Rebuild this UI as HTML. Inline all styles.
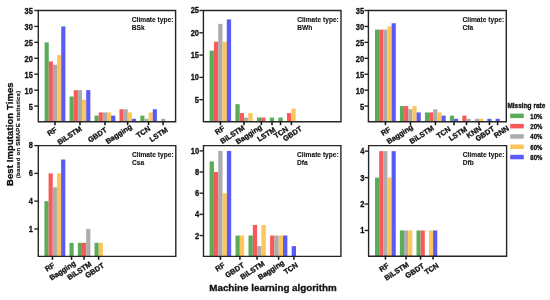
<!DOCTYPE html>
<html><head><meta charset="utf-8"><style>
html,body{margin:0;padding:0;background:#fff;width:550px;height:300px;overflow:hidden}
svg{display:block}
text{font-family:'Liberation Sans', Arial, sans-serif;font-weight:bold;fill:#111;stroke:#111;stroke-width:0.3px}
</style></head><body>
<svg width="550" height="300" viewBox="0 0 550 300">
<rect x="44.6" y="42.36" width="4.16" height="79.64" fill="#5aac5a"/>
<rect x="48.76" y="61.47" width="4.16" height="60.53" fill="#f85a5a"/>
<rect x="52.92" y="64.66" width="4.16" height="57.34" fill="#acacac"/>
<rect x="57.08" y="55.1" width="4.16" height="66.9" fill="#fcc65a"/>
<rect x="61.24" y="26.43" width="4.16" height="95.57" fill="#5a5af8"/>
<rect x="69.56" y="96.51" width="4.16" height="25.49" fill="#5aac5a"/>
<rect x="73.72" y="90.14" width="4.16" height="31.86" fill="#f85a5a"/>
<rect x="77.88" y="90.14" width="4.16" height="31.86" fill="#acacac"/>
<rect x="82.04" y="99.7" width="4.16" height="22.3" fill="#fcc65a"/>
<rect x="86.2" y="90.14" width="4.16" height="31.86" fill="#5a5af8"/>
<rect x="94.52" y="115.63" width="4.16" height="6.37" fill="#5aac5a"/>
<rect x="98.68" y="112.44" width="4.16" height="9.56" fill="#f85a5a"/>
<rect x="102.84" y="112.44" width="4.16" height="9.56" fill="#acacac"/>
<rect x="107" y="112.44" width="4.16" height="9.56" fill="#fcc65a"/>
<rect x="111.16" y="115.63" width="4.16" height="6.37" fill="#5a5af8"/>
<rect x="119.48" y="109.26" width="4.16" height="12.74" fill="#f85a5a"/>
<rect x="123.64" y="109.26" width="4.16" height="12.74" fill="#acacac"/>
<rect x="127.8" y="112.44" width="4.16" height="9.56" fill="#fcc65a"/>
<rect x="131.96" y="118.81" width="4.16" height="3.19" fill="#5a5af8"/>
<rect x="140.28" y="115.63" width="4.16" height="6.37" fill="#5aac5a"/>
<rect x="144.44" y="118.81" width="4.16" height="3.19" fill="#acacac"/>
<rect x="148.6" y="112.44" width="4.16" height="9.56" fill="#fcc65a"/>
<rect x="152.76" y="109.26" width="4.16" height="12.74" fill="#5a5af8"/>
<rect x="161.08" y="118.81" width="4.16" height="3.19" fill="#acacac"/>
<path d="M38.3 10.5H175.6V121.75H38.3Z" fill="none" stroke="#262626" stroke-width="1.4"/>
<line x1="34.3" y1="106.07" x2="38.3" y2="106.07" stroke="#262626" stroke-width="1.4"/>
<text x="32.8" y="109.77" font-size="8.6" text-anchor="end" textLength="4.16" lengthAdjust="spacingAndGlyphs">5</text>
<line x1="34.3" y1="90.14" x2="38.3" y2="90.14" stroke="#262626" stroke-width="1.4"/>
<text x="32.8" y="93.84" font-size="8.6" text-anchor="end" textLength="8.32" lengthAdjust="spacingAndGlyphs">10</text>
<line x1="34.3" y1="74.21" x2="38.3" y2="74.21" stroke="#262626" stroke-width="1.4"/>
<text x="32.8" y="77.91" font-size="8.6" text-anchor="end" textLength="8.32" lengthAdjust="spacingAndGlyphs">15</text>
<line x1="34.3" y1="58.29" x2="38.3" y2="58.29" stroke="#262626" stroke-width="1.4"/>
<text x="32.8" y="61.99" font-size="8.6" text-anchor="end" textLength="8.32" lengthAdjust="spacingAndGlyphs">20</text>
<line x1="34.3" y1="42.36" x2="38.3" y2="42.36" stroke="#262626" stroke-width="1.4"/>
<text x="32.8" y="46.06" font-size="8.6" text-anchor="end" textLength="8.32" lengthAdjust="spacingAndGlyphs">25</text>
<line x1="34.3" y1="26.43" x2="38.3" y2="26.43" stroke="#262626" stroke-width="1.4"/>
<text x="32.8" y="30.13" font-size="8.6" text-anchor="end" textLength="8.32" lengthAdjust="spacingAndGlyphs">30</text>
<line x1="34.3" y1="10.5" x2="38.3" y2="10.5" stroke="#262626" stroke-width="1.4"/>
<text x="32.8" y="14.2" font-size="8.6" text-anchor="end" textLength="8.32" lengthAdjust="spacingAndGlyphs">35</text>
<line x1="55" y1="121.75" x2="55" y2="125.15" stroke="#111" stroke-width="1.5"/>
<text x="57.6" y="130.95" font-size="7.4" text-anchor="end" transform="rotate(-33 57.6 130.95)">RF</text>
<line x1="79.98" y1="121.75" x2="79.98" y2="125.15" stroke="#111" stroke-width="1.5"/>
<text x="82.5" y="130.12" font-size="7.4" text-anchor="end" transform="rotate(-33 82.5 130.12)">BiLSTM</text>
<line x1="104.96" y1="121.75" x2="104.96" y2="125.15" stroke="#111" stroke-width="1.5"/>
<text x="107.52" y="131.38" font-size="7.4" text-anchor="end" transform="rotate(-33 107.52 131.38)">GBDT</text>
<line x1="127.65" y1="121.75" x2="127.65" y2="125.15" stroke="#111" stroke-width="1.5"/>
<text x="132.45" y="128.1" font-size="7.4" text-anchor="end" transform="rotate(-33 132.45 128.1)">Bagging</text>
<line x1="148.55" y1="121.75" x2="148.55" y2="125.15" stroke="#111" stroke-width="1.5"/>
<text x="151" y="129.88" font-size="7.4" text-anchor="end" transform="rotate(-33 151 129.88)">TCN</text>
<line x1="163.08" y1="121.75" x2="163.08" y2="125.15" stroke="#111" stroke-width="1.5"/>
<text x="168.38" y="131.18" font-size="7.4" text-anchor="end" transform="rotate(-33 168.38 131.18)">LSTM</text>
<text x="131.8" y="21.5" font-size="6.6" textLength="41.6" lengthAdjust="spacing" style="stroke-width:0.1px">Climate type:</text>
<text x="131.8" y="29.8" font-size="6.6" style="stroke-width:0.1px">BSk</text>
<rect x="209.6" y="50.64" width="4.3" height="71.36" fill="#5aac5a"/>
<rect x="213.9" y="41.72" width="4.3" height="80.28" fill="#f85a5a"/>
<rect x="218.2" y="23.88" width="4.3" height="98.12" fill="#acacac"/>
<rect x="222.5" y="41.72" width="4.3" height="80.28" fill="#fcc65a"/>
<rect x="226.8" y="19.42" width="4.3" height="102.58" fill="#5a5af8"/>
<rect x="235.4" y="104.16" width="4.3" height="17.84" fill="#5aac5a"/>
<rect x="239.7" y="113.08" width="4.3" height="8.92" fill="#f85a5a"/>
<rect x="244" y="117.54" width="4.3" height="4.46" fill="#acacac"/>
<rect x="248.3" y="113.08" width="4.3" height="8.92" fill="#fcc65a"/>
<rect x="256.9" y="117.54" width="4.3" height="4.46" fill="#5aac5a"/>
<rect x="261.2" y="117.54" width="4.3" height="4.46" fill="#f85a5a"/>
<rect x="269.8" y="117.54" width="4.3" height="4.46" fill="#5aac5a"/>
<rect x="278.4" y="117.54" width="4.3" height="4.46" fill="#5aac5a"/>
<rect x="287" y="113.08" width="4.3" height="8.92" fill="#f85a5a"/>
<rect x="291.3" y="108.62" width="4.3" height="13.38" fill="#fcc65a"/>
<path d="M203.4 10.5H341V121.75H203.4Z" fill="none" stroke="#262626" stroke-width="1.4"/>
<line x1="199.4" y1="99.7" x2="203.4" y2="99.7" stroke="#262626" stroke-width="1.4"/>
<text x="199" y="102.6" font-size="8.6" text-anchor="end" textLength="4.16" lengthAdjust="spacingAndGlyphs">5</text>
<line x1="199.4" y1="77.4" x2="203.4" y2="77.4" stroke="#262626" stroke-width="1.4"/>
<text x="199" y="80.3" font-size="8.6" text-anchor="end" textLength="8.32" lengthAdjust="spacingAndGlyphs">10</text>
<line x1="199.4" y1="55.1" x2="203.4" y2="55.1" stroke="#262626" stroke-width="1.4"/>
<text x="199" y="58" font-size="8.6" text-anchor="end" textLength="8.32" lengthAdjust="spacingAndGlyphs">15</text>
<line x1="199.4" y1="32.8" x2="203.4" y2="32.8" stroke="#262626" stroke-width="1.4"/>
<text x="199" y="35.7" font-size="8.6" text-anchor="end" textLength="8.32" lengthAdjust="spacingAndGlyphs">20</text>
<line x1="199.4" y1="10.5" x2="203.4" y2="10.5" stroke="#262626" stroke-width="1.4"/>
<text x="199" y="13.4" font-size="8.6" text-anchor="end" textLength="8.32" lengthAdjust="spacingAndGlyphs">25</text>
<line x1="220.43" y1="121.75" x2="220.43" y2="125.15" stroke="#111" stroke-width="1.5"/>
<text x="225.4" y="129.6" font-size="7.4" text-anchor="end" transform="rotate(-33 225.4 129.6)">RF</text>
<line x1="244" y1="121.75" x2="244" y2="125.15" stroke="#111" stroke-width="1.5"/>
<text x="245.25" y="129.12" font-size="7.4" text-anchor="end" transform="rotate(-33 245.25 129.12)">BiLSTM</text>
<line x1="261.35" y1="121.75" x2="261.35" y2="125.15" stroke="#111" stroke-width="1.5"/>
<text x="262.65" y="128.45" font-size="7.4" text-anchor="end" transform="rotate(-33 262.65 128.45)">Bagging</text>
<line x1="271.98" y1="121.75" x2="271.98" y2="125.15" stroke="#111" stroke-width="1.5"/>
<text x="276.12" y="130.88" font-size="7.4" text-anchor="end" transform="rotate(-33 276.12 130.88)">LSTM</text>
<line x1="280.53" y1="121.75" x2="280.53" y2="125.15" stroke="#111" stroke-width="1.5"/>
<text x="288.75" y="130.38" font-size="7.4" text-anchor="end" transform="rotate(-33 288.75 130.38)">TCN</text>
<line x1="291.4" y1="121.75" x2="291.4" y2="125.15" stroke="#111" stroke-width="1.5"/>
<text x="302.62" y="130.12" font-size="7.4" text-anchor="end" transform="rotate(-33 302.62 130.12)">GBDT</text>
<text x="297.2" y="21.5" font-size="6.6" textLength="41.6" lengthAdjust="spacing" style="stroke-width:0.1px">Climate type:</text>
<text x="297.2" y="29.8" font-size="6.6" style="stroke-width:0.1px">BWh</text>
<rect x="375" y="29.61" width="4.16" height="92.39" fill="#5aac5a"/>
<rect x="379.16" y="29.61" width="4.16" height="92.39" fill="#f85a5a"/>
<rect x="383.32" y="29.61" width="4.16" height="92.39" fill="#acacac"/>
<rect x="387.48" y="26.43" width="4.16" height="95.57" fill="#fcc65a"/>
<rect x="391.64" y="23.24" width="4.16" height="98.76" fill="#5a5af8"/>
<rect x="399.96" y="106.07" width="4.16" height="15.93" fill="#5aac5a"/>
<rect x="404.12" y="106.07" width="4.16" height="15.93" fill="#f85a5a"/>
<rect x="408.28" y="109.26" width="4.16" height="12.74" fill="#acacac"/>
<rect x="412.44" y="106.07" width="4.16" height="15.93" fill="#fcc65a"/>
<rect x="416.6" y="112.44" width="4.16" height="9.56" fill="#5a5af8"/>
<rect x="424.92" y="112.44" width="4.16" height="9.56" fill="#5aac5a"/>
<rect x="429.08" y="112.44" width="4.16" height="9.56" fill="#f85a5a"/>
<rect x="433.24" y="109.26" width="4.16" height="12.74" fill="#acacac"/>
<rect x="437.4" y="112.44" width="4.16" height="9.56" fill="#fcc65a"/>
<rect x="441.56" y="115.63" width="4.16" height="6.37" fill="#5a5af8"/>
<rect x="449.88" y="115.63" width="4.16" height="6.37" fill="#5aac5a"/>
<rect x="454.04" y="118.81" width="4.16" height="3.19" fill="#5a5af8"/>
<rect x="462.36" y="115.63" width="4.16" height="6.37" fill="#f85a5a"/>
<rect x="466.52" y="118.81" width="4.16" height="3.19" fill="#acacac"/>
<rect x="474.84" y="118.81" width="4.16" height="3.19" fill="#acacac"/>
<rect x="479" y="118.81" width="4.16" height="3.19" fill="#fcc65a"/>
<rect x="487.32" y="118.81" width="4.16" height="3.19" fill="#5a5af8"/>
<rect x="495.64" y="118.81" width="4.16" height="3.19" fill="#5a5af8"/>
<path d="M368.4 10.5H506.3V121.75H368.4Z" fill="none" stroke="#262626" stroke-width="1.4"/>
<line x1="364.4" y1="106.07" x2="368.4" y2="106.07" stroke="#262626" stroke-width="1.4"/>
<text x="364.1" y="109.77" font-size="8.6" text-anchor="end" textLength="4.16" lengthAdjust="spacingAndGlyphs">5</text>
<line x1="364.4" y1="90.14" x2="368.4" y2="90.14" stroke="#262626" stroke-width="1.4"/>
<text x="364.1" y="93.84" font-size="8.6" text-anchor="end" textLength="8.32" lengthAdjust="spacingAndGlyphs">10</text>
<line x1="364.4" y1="74.21" x2="368.4" y2="74.21" stroke="#262626" stroke-width="1.4"/>
<text x="364.1" y="77.91" font-size="8.6" text-anchor="end" textLength="8.32" lengthAdjust="spacingAndGlyphs">15</text>
<line x1="364.4" y1="58.29" x2="368.4" y2="58.29" stroke="#262626" stroke-width="1.4"/>
<text x="364.1" y="61.99" font-size="8.6" text-anchor="end" textLength="8.32" lengthAdjust="spacingAndGlyphs">20</text>
<line x1="364.4" y1="42.36" x2="368.4" y2="42.36" stroke="#262626" stroke-width="1.4"/>
<text x="364.1" y="46.06" font-size="8.6" text-anchor="end" textLength="8.32" lengthAdjust="spacingAndGlyphs">25</text>
<line x1="364.4" y1="26.43" x2="368.4" y2="26.43" stroke="#262626" stroke-width="1.4"/>
<text x="364.1" y="30.13" font-size="8.6" text-anchor="end" textLength="8.32" lengthAdjust="spacingAndGlyphs">30</text>
<line x1="364.4" y1="10.5" x2="368.4" y2="10.5" stroke="#262626" stroke-width="1.4"/>
<text x="364.1" y="14.2" font-size="8.6" text-anchor="end" textLength="8.32" lengthAdjust="spacingAndGlyphs">35</text>
<line x1="385.45" y1="121.75" x2="385.45" y2="125.15" stroke="#111" stroke-width="1.5"/>
<text x="391.25" y="130.75" font-size="7.4" text-anchor="end" transform="rotate(-33 391.25 130.75)">RF</text>
<line x1="410.43" y1="121.75" x2="410.43" y2="125.15" stroke="#111" stroke-width="1.5"/>
<text x="413.5" y="128.25" font-size="7.4" text-anchor="end" transform="rotate(-33 413.5 128.25)">Bagging</text>
<line x1="435.41" y1="121.75" x2="435.41" y2="125.15" stroke="#111" stroke-width="1.5"/>
<text x="434.5" y="129.38" font-size="7.4" text-anchor="end" transform="rotate(-33 434.5 129.38)">BiLSTM</text>
<line x1="454.02" y1="121.75" x2="454.02" y2="125.15" stroke="#111" stroke-width="1.5"/>
<text x="451.25" y="130.38" font-size="7.4" text-anchor="end" transform="rotate(-33 451.25 130.38)">TCN</text>
<line x1="466.51" y1="121.75" x2="466.51" y2="125.15" stroke="#111" stroke-width="1.5"/>
<text x="467.62" y="130.38" font-size="7.4" text-anchor="end" transform="rotate(-33 467.62 130.38)">LSTM</text>
<line x1="479" y1="121.75" x2="479" y2="125.15" stroke="#111" stroke-width="1.5"/>
<text x="481.88" y="129.75" font-size="7.4" text-anchor="end" transform="rotate(-33 481.88 129.75)">KNN</text>
<line x1="489.45" y1="121.75" x2="489.45" y2="125.15" stroke="#111" stroke-width="1.5"/>
<text x="495.12" y="130.12" font-size="7.4" text-anchor="end" transform="rotate(-33 495.12 130.12)">GBDT</text>
<line x1="497.61" y1="121.75" x2="497.61" y2="125.15" stroke="#111" stroke-width="1.5"/>
<text x="509.38" y="129.5" font-size="7.4" text-anchor="end" transform="rotate(-33 509.38 129.5)">RNN</text>
<text x="462.5" y="21.5" font-size="6.6" textLength="41.6" lengthAdjust="spacing" style="stroke-width:0.1px">Climate type:</text>
<text x="462.5" y="29.8" font-size="6.6" style="stroke-width:0.1px">Cfa</text>
<rect x="44.4" y="201.15" width="4.18" height="55.55" fill="#5aac5a"/>
<rect x="48.58" y="173.38" width="4.18" height="83.32" fill="#f85a5a"/>
<rect x="52.76" y="187.26" width="4.18" height="69.44" fill="#acacac"/>
<rect x="56.94" y="173.38" width="4.18" height="83.32" fill="#fcc65a"/>
<rect x="61.12" y="159.49" width="4.18" height="97.21" fill="#5a5af8"/>
<rect x="69.48" y="242.81" width="4.18" height="13.89" fill="#5aac5a"/>
<rect x="77.84" y="242.81" width="4.18" height="13.89" fill="#5aac5a"/>
<rect x="82.02" y="242.81" width="4.18" height="13.89" fill="#f85a5a"/>
<rect x="86.2" y="228.92" width="4.18" height="27.77" fill="#acacac"/>
<rect x="94.56" y="242.81" width="4.18" height="13.89" fill="#5aac5a"/>
<rect x="98.74" y="242.81" width="4.18" height="13.89" fill="#fcc65a"/>
<path d="M38.3 145.6H175.8V256.4H38.3Z" fill="none" stroke="#262626" stroke-width="1.4"/>
<line x1="34.3" y1="228.92" x2="38.3" y2="228.92" stroke="#262626" stroke-width="1.4"/>
<text x="32.8" y="231.62" font-size="8.6" text-anchor="end" textLength="4.16" lengthAdjust="spacingAndGlyphs">1</text>
<line x1="34.3" y1="201.15" x2="38.3" y2="201.15" stroke="#262626" stroke-width="1.4"/>
<text x="32.8" y="203.85" font-size="8.6" text-anchor="end" textLength="4.16" lengthAdjust="spacingAndGlyphs">4</text>
<line x1="34.3" y1="173.38" x2="38.3" y2="173.38" stroke="#262626" stroke-width="1.4"/>
<text x="32.8" y="176.07" font-size="8.6" text-anchor="end" textLength="4.16" lengthAdjust="spacingAndGlyphs">6</text>
<line x1="34.3" y1="145.6" x2="38.3" y2="145.6" stroke="#262626" stroke-width="1.4"/>
<text x="32.8" y="148.3" font-size="8.6" text-anchor="end" textLength="4.16" lengthAdjust="spacingAndGlyphs">8</text>
<line x1="52.45" y1="256.4" x2="52.45" y2="259.8" stroke="#111" stroke-width="1.5"/>
<text x="55.25" y="266.5" font-size="7.4" text-anchor="end" transform="rotate(-33 55.25 266.5)">RF</text>
<line x1="71.53" y1="256.4" x2="71.53" y2="259.8" stroke="#111" stroke-width="1.5"/>
<text x="76.25" y="264.5" font-size="7.4" text-anchor="end" transform="rotate(-33 76.25 264.5)">Bagging</text>
<line x1="84.06" y1="256.4" x2="84.06" y2="259.8" stroke="#111" stroke-width="1.5"/>
<text x="92.25" y="265.38" font-size="7.4" text-anchor="end" transform="rotate(-33 92.25 265.38)">BiLSTM</text>
<line x1="98.62" y1="256.4" x2="98.62" y2="259.8" stroke="#111" stroke-width="1.5"/>
<text x="104.88" y="266.88" font-size="7.4" text-anchor="end" transform="rotate(-33 104.88 266.88)">GBDT</text>
<text x="132" y="156.6" font-size="6.6" textLength="41.6" lengthAdjust="spacing" style="stroke-width:0.1px">Climate type:</text>
<text x="132" y="164.9" font-size="6.6" style="stroke-width:0.1px">Csa</text>
<rect x="209.6" y="161.47" width="4.32" height="95.23" fill="#5aac5a"/>
<rect x="213.92" y="172.05" width="4.32" height="84.65" fill="#f85a5a"/>
<rect x="218.24" y="150.89" width="4.32" height="105.81" fill="#acacac"/>
<rect x="222.56" y="193.21" width="4.32" height="63.49" fill="#fcc65a"/>
<rect x="226.88" y="150.89" width="4.32" height="105.81" fill="#5a5af8"/>
<rect x="235.52" y="235.54" width="4.32" height="21.16" fill="#5aac5a"/>
<rect x="239.84" y="235.54" width="4.32" height="21.16" fill="#fcc65a"/>
<rect x="248.48" y="235.54" width="4.32" height="21.16" fill="#5aac5a"/>
<rect x="252.8" y="224.96" width="4.32" height="31.74" fill="#f85a5a"/>
<rect x="257.12" y="246.12" width="4.32" height="10.58" fill="#acacac"/>
<rect x="261.44" y="224.96" width="4.32" height="31.74" fill="#fcc65a"/>
<rect x="270.08" y="235.54" width="4.32" height="21.16" fill="#f85a5a"/>
<rect x="274.4" y="235.54" width="4.32" height="21.16" fill="#acacac"/>
<rect x="278.72" y="235.54" width="4.32" height="21.16" fill="#fcc65a"/>
<rect x="283.04" y="235.54" width="4.32" height="21.16" fill="#5a5af8"/>
<rect x="291.68" y="246.12" width="4.32" height="10.58" fill="#5a5af8"/>
<path d="M203.5 145.6H340.9V256.4H203.5Z" fill="none" stroke="#262626" stroke-width="1.4"/>
<line x1="199.5" y1="235.54" x2="203.5" y2="235.54" stroke="#262626" stroke-width="1.4"/>
<text x="199.1" y="238.59" font-size="8.6" text-anchor="end" textLength="4.16" lengthAdjust="spacingAndGlyphs">2</text>
<line x1="199.5" y1="214.38" x2="203.5" y2="214.38" stroke="#262626" stroke-width="1.4"/>
<text x="199.1" y="217.43" font-size="8.6" text-anchor="end" textLength="4.16" lengthAdjust="spacingAndGlyphs">4</text>
<line x1="199.5" y1="193.21" x2="203.5" y2="193.21" stroke="#262626" stroke-width="1.4"/>
<text x="199.1" y="196.26" font-size="8.6" text-anchor="end" textLength="4.16" lengthAdjust="spacingAndGlyphs">6</text>
<line x1="199.5" y1="172.05" x2="203.5" y2="172.05" stroke="#262626" stroke-width="1.4"/>
<text x="199.1" y="175.1" font-size="8.6" text-anchor="end" textLength="4.16" lengthAdjust="spacingAndGlyphs">8</text>
<line x1="199.5" y1="150.89" x2="203.5" y2="150.89" stroke="#262626" stroke-width="1.4"/>
<text x="199.1" y="153.94" font-size="8.6" text-anchor="end" textLength="8.32" lengthAdjust="spacingAndGlyphs">10</text>
<line x1="220.45" y1="256.4" x2="220.45" y2="259.8" stroke="#111" stroke-width="1.5"/>
<text x="225.6" y="266.4" font-size="7.4" text-anchor="end" transform="rotate(-33 225.6 266.4)">RF</text>
<line x1="239.92" y1="256.4" x2="239.92" y2="259.8" stroke="#111" stroke-width="1.5"/>
<text x="244.88" y="266.62" font-size="7.4" text-anchor="end" transform="rotate(-33 244.88 266.62)">GBDT</text>
<line x1="257.06" y1="256.4" x2="257.06" y2="259.8" stroke="#111" stroke-width="1.5"/>
<text x="265.25" y="264.88" font-size="7.4" text-anchor="end" transform="rotate(-33 265.25 264.88)">BiLSTM</text>
<line x1="278.61" y1="256.4" x2="278.61" y2="259.8" stroke="#111" stroke-width="1.5"/>
<text x="284.85" y="263.95" font-size="7.4" text-anchor="end" transform="rotate(-33 284.85 263.95)">Bagging</text>
<line x1="293.92" y1="256.4" x2="293.92" y2="259.8" stroke="#111" stroke-width="1.5"/>
<text x="298.4" y="266.42" font-size="7.4" text-anchor="end" transform="rotate(-33 298.4 266.42)">TCN</text>
<text x="297.1" y="156.6" font-size="6.6" textLength="41.6" lengthAdjust="spacing" style="stroke-width:0.1px">Climate type:</text>
<text x="297.1" y="164.9" font-size="6.6" style="stroke-width:0.1px">Dfa</text>
<rect x="375" y="177.59" width="4.15" height="79.31" fill="#5aac5a"/>
<rect x="379.15" y="151.15" width="4.15" height="105.75" fill="#f85a5a"/>
<rect x="383.3" y="151.15" width="4.15" height="105.75" fill="#acacac"/>
<rect x="387.45" y="177.59" width="4.15" height="79.31" fill="#fcc65a"/>
<rect x="391.6" y="151.15" width="4.15" height="105.75" fill="#5a5af8"/>
<rect x="399.9" y="230.46" width="4.15" height="26.44" fill="#5aac5a"/>
<rect x="404.05" y="230.46" width="4.15" height="26.44" fill="#acacac"/>
<rect x="408.2" y="230.46" width="4.15" height="26.44" fill="#fcc65a"/>
<rect x="416.5" y="230.46" width="4.15" height="26.44" fill="#5aac5a"/>
<rect x="420.65" y="230.46" width="4.15" height="26.44" fill="#f85a5a"/>
<rect x="428.95" y="230.46" width="4.15" height="26.44" fill="#fcc65a"/>
<rect x="433.1" y="230.46" width="4.15" height="26.44" fill="#5a5af8"/>
<path d="M368.6 145.6H506.6V256.2H368.6Z" fill="none" stroke="#262626" stroke-width="1.4"/>
<line x1="364.6" y1="230.46" x2="368.6" y2="230.46" stroke="#262626" stroke-width="1.4"/>
<text x="364.3" y="233.41" font-size="8.6" text-anchor="end" textLength="4.16" lengthAdjust="spacingAndGlyphs">1</text>
<line x1="364.6" y1="204.03" x2="368.6" y2="204.03" stroke="#262626" stroke-width="1.4"/>
<text x="364.3" y="206.98" font-size="8.6" text-anchor="end" textLength="4.16" lengthAdjust="spacingAndGlyphs">2</text>
<line x1="364.6" y1="177.59" x2="368.6" y2="177.59" stroke="#262626" stroke-width="1.4"/>
<text x="364.3" y="180.54" font-size="8.6" text-anchor="end" textLength="4.16" lengthAdjust="spacingAndGlyphs">3</text>
<line x1="364.6" y1="151.15" x2="368.6" y2="151.15" stroke="#262626" stroke-width="1.4"/>
<text x="364.3" y="154.1" font-size="8.6" text-anchor="end" textLength="4.16" lengthAdjust="spacingAndGlyphs">4</text>
<line x1="385.44" y1="256.2" x2="385.44" y2="259.6" stroke="#111" stroke-width="1.5"/>
<text x="389.65" y="266.9" font-size="7.4" text-anchor="end" transform="rotate(-33 389.65 266.9)">RF</text>
<line x1="406.06" y1="256.2" x2="406.06" y2="259.6" stroke="#111" stroke-width="1.5"/>
<text x="409.5" y="265.82" font-size="7.4" text-anchor="end" transform="rotate(-33 409.5 265.82)">BiLSTM</text>
<line x1="420.57" y1="256.2" x2="420.57" y2="259.6" stroke="#111" stroke-width="1.5"/>
<text x="424.92" y="267.18" font-size="7.4" text-anchor="end" transform="rotate(-33 424.92 267.18)">GBDT</text>
<line x1="433.05" y1="256.2" x2="433.05" y2="259.6" stroke="#111" stroke-width="1.5"/>
<text x="439.35" y="266.73" font-size="7.4" text-anchor="end" transform="rotate(-33 439.35 266.73)">TCN</text>
<text x="462.8" y="156.6" font-size="6.6" textLength="41.6" lengthAdjust="spacing" style="stroke-width:0.1px">Climate type:</text>
<text x="462.8" y="164.9" font-size="6.6" style="stroke-width:0.1px">Dfb</text>
<text x="507.4" y="107.8" font-size="6.5">Missing rate</text>
<rect x="510.2" y="113.6" width="13.6" height="4.5" fill="#5aac5a"/>
<text x="530.3" y="118.6" font-size="6.6" textLength="12" lengthAdjust="spacingAndGlyphs">10%</text>
<rect x="510.2" y="123.9" width="13.6" height="4.5" fill="#f85a5a"/>
<text x="530.3" y="128.9" font-size="6.6" textLength="12" lengthAdjust="spacingAndGlyphs">20%</text>
<rect x="510.2" y="134.2" width="13.6" height="4.5" fill="#acacac"/>
<text x="530.3" y="139.2" font-size="6.6" textLength="12" lengthAdjust="spacingAndGlyphs">40%</text>
<rect x="510.2" y="144.5" width="13.6" height="4.5" fill="#fcc65a"/>
<text x="530.3" y="149.5" font-size="6.6" textLength="12" lengthAdjust="spacingAndGlyphs">60%</text>
<rect x="510.2" y="154.8" width="13.6" height="4.5" fill="#5a5af8"/>
<text x="530.3" y="159.8" font-size="6.6" textLength="12" lengthAdjust="spacingAndGlyphs">80%</text>
<text x="273.05" y="291.2" font-size="9.3" text-anchor="middle" textLength="127.5" lengthAdjust="spacingAndGlyphs">Machine learning algorithm</text>
<text transform="translate(13.0 134.2) rotate(-90)" x="0" y="0" font-size="9.4" text-anchor="middle" textLength="103.5" lengthAdjust="spacing">Best Imputation Times</text>
<text transform="translate(20.3 134.5) rotate(-90)" x="0" y="0" font-size="6.1" text-anchor="middle" textLength="87.5" lengthAdjust="spacing" style="stroke-width:0.15px">(based on SMAPE statistics)</text>
</svg>
</body></html>
